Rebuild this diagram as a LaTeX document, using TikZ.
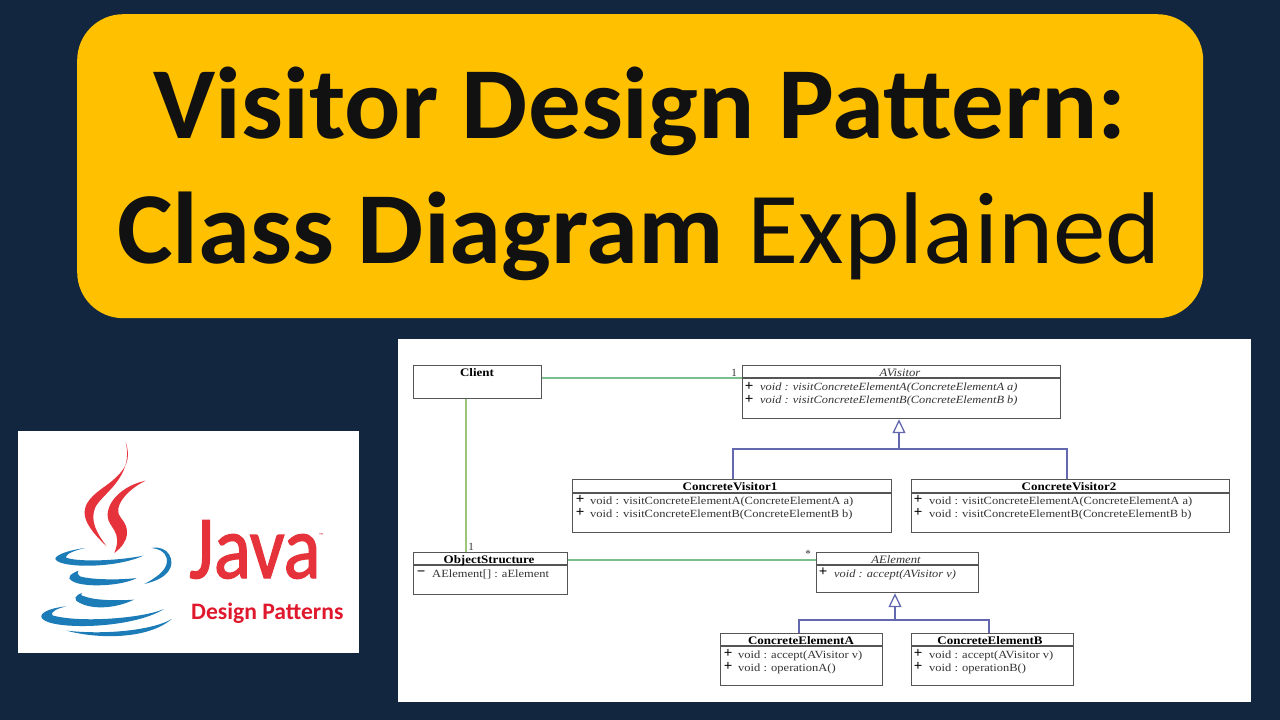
\documentclass[tikz,border=0pt]{standalone}
\usepackage{fontspec}
\setmainfont{Carlito}
\newfontfamily\umlfont{Liberation Serif}
\newfontfamily\visfont[FakeBold=1.5]{Liberation Serif}
\newfontfamily\javafont[FakeBold=1.6]{Carlito}
\usetikzlibrary{arrows.meta}
\definecolor{bgnavy}{HTML}{12263F}
\definecolor{banner}{HTML}{FFC000}
\definecolor{inkdark}{HTML}{111111}
\definecolor{umlline}{HTML}{555555}
\definecolor{umltext}{HTML}{333333}
\definecolor{lgreen}{HTML}{7CBE8E}
\definecolor{lyellow}{HTML}{9CC47C}
\definecolor{lblue}{HTML}{6468AE}
\definecolor{javared}{HTML}{E5323B}
\definecolor{dpred}{HTML}{E0182D}
\definecolor{javablue}{HTML}{1C7CB8}
\tikzset{
  cls/.style={draw=umlline,line width=1.2pt,fill=white,inner sep=0pt},
  divider/.style={draw=umlline,line width=1.2pt},
  ctitle/.style={font=\umlfont\bfseries\fontsize{11.5}{13}\selectfont,text=black,anchor=base,inner sep=0pt,xscale=1.13},
  atitle/.style={font=\umlfont\itshape\fontsize{11.3}{13}\selectfont,text=umltext,anchor=base,inner sep=0pt,xscale=1.12},
  mem/.style={font=\umlfont\fontsize{11}{13}\selectfont,text=umltext,anchor=base west,inner sep=0pt,xscale=1.136},
  amem/.style={font=\umlfont\itshape\fontsize{11}{13}\selectfont,text=umltext,anchor=base west,inner sep=0pt,xscale=1.127},
  vis/.style={font=\visfont\fontsize{14}{14}\selectfont,text=black,anchor=base,inner sep=0pt},
  mult/.style={font=\umlfont\fontsize{11}{13}\selectfont,text=umltext,anchor=base,inner sep=0pt},
  assoc/.style={draw=lgreen,line width=1.3pt},
  assocv/.style={draw=lyellow,line width=1.4pt},
  inherit/.style={draw=lblue,line width=1.3pt},
  inherithead/.style={draw=lblue,line width=1.3pt,-{Triangle[open,length=14pt,width=13pt,fill=white]}},
  headline/.style={font=\bfseries\fontsize{102}{110}\selectfont,text=inkdark,anchor=base,inner sep=0pt,xscale=1.03},
  flame/.style={fill=javared,draw=none},
  cup/.style={fill=javablue,draw=none}
}
\begin{document}
\begin{tikzpicture}[x=1pt,y=-1pt]
\useasboundingbox (0,0) rectangle (1280,720);
\fill[bgnavy] (0,0) rectangle (1280,720);
% banner
\node[draw=none,fill=banner,rounded corners=46pt,minimum width=1126pt,minimum height=304pt,inner sep=0pt,anchor=north west] (bannerbox) at (77,14) {};
\node[headline] (line1) at (640,138) {Visitor Design Pattern:};
\node[headline] (line2) at (639,263.5) {Class Diagram \fontseries{m}\selectfont Explained};
% panels
\node[fill=white,minimum width=341pt,minimum height=222pt,inner sep=0pt,anchor=north west] (logopanel) at (18,431) {};
\node[fill=white,minimum width=853pt,minimum height=363pt,inner sep=0pt,anchor=north west] (umlpanel) at (398,339) {};
% logo, in 3x zoom coordinates
\begin{scope}[shift={(15,428)},x=0.33333pt,y=-0.33333pt]
\fill[flame] (332,42) .. controls (348,90) and (340,125) .. (270,175) .. controls (190,230) and (185,270) .. (275,355) .. controls (245,315) and (225,280) .. (240,240) .. controls (258,198) and (358,150) .. (332,42) -- cycle;
\fill[flame] (392,158) .. controls (325,172) and (275,220) .. (278,265) .. controls (280,300) and (325,310) .. (298,375) .. controls (345,340) and (345,300) .. (318,270) .. controls (290,240) and (335,185) .. (392,158) -- cycle;
\fill[cup] (210,360) .. controls (150,368) and (115,385) .. (122,395) .. controls (140,420) and (300,422) .. (385,383) .. controls (300,400) and (180,402) .. (152,388) .. controls (155,375) and (185,366) .. (210,360) -- cycle;
\fill[cup] (410,360) .. controls (460,350) and (484,400) .. (460,430) .. controls (445,450) and (420,460) .. (388,468) .. controls (432,445) and (462,420) .. (455,390) .. controls (450,370) and (430,362) .. (410,360) -- cycle;
\fill[cup] (190,428) .. controls (165,438) and (155,450) .. (170,458) .. controls (200,480) and (320,475) .. (365,450) .. controls (320,456) and (230,456) .. (195,445) .. controls (187,440) and (186,435) .. (190,428) -- cycle;
\fill[cup] (200,495) .. controls (180,503) and (172,515) .. (195,525) .. controls (240,548) and (310,538) .. (357,515) .. controls (310,518) and (240,518) .. (208,505) .. controls (198,503) and (197,500) .. (200,495) -- cycle;
\fill[cup] (155,535) .. controls (100,540) and (68,558) .. (82,572) .. controls (110,606) and (350,604) .. (447,543) .. controls (380,572) and (190,585) .. (112,562) .. controls (105,553) and (125,541) .. (155,535) -- cycle;
\fill[cup] (155,608) .. controls (250,634) and (400,634) .. (470,573) .. controls (420,604) and (280,622) .. (155,608) -- cycle;
\end{scope}
\node[anchor=base west,inner sep=0pt,text=javared,font=\javafont\fontsize{90}{90}\selectfont,xscale=.86] (javaword) at (189,578) {Java};
\node[anchor=base west,inner sep=0pt,text=javared,font=\fontsize{6}{6}\selectfont] (tm) at (319,537) {™};
\node[anchor=base west,inner sep=0pt,text=dpred,font=\bfseries\fontsize{23.6}{24}\selectfont] (dp) at (191,619) {Design Patterns};
% class boxes
\node[cls,minimum width=128pt,minimum height=33pt,anchor=north west] (client) at (413,365) {};
\node[cls,minimum width=318pt,minimum height=53pt,anchor=north west] (avisitor) at (742,365) {};
\node[cls,minimum width=319pt,minimum height=53pt,anchor=north west] (cv1) at (572,479) {};
\node[cls,minimum width=318pt,minimum height=53pt,anchor=north west] (cv2) at (911,479) {};
\node[cls,minimum width=154pt,minimum height=42pt,anchor=north west] (ostruct) at (413,552) {};
\node[cls,minimum width=162pt,minimum height=40pt,anchor=north west] (aelement) at (816,552) {};
\node[cls,minimum width=162pt,minimum height=52pt,anchor=north west] (cea) at (720,633) {};
\node[cls,minimum width=162pt,minimum height=52pt,anchor=north west] (ceb) at (911,633) {};
% compartments
\coordinate (avdiv) at (742,378);
\coordinate (cvdiv) at (572,493);
\coordinate (osdiv) at (413,565);
\coordinate (cediv) at (720,646);
\draw[divider] (avdiv) -- (avdiv -| avisitor.east);
\draw[divider] (cv1.west |- cvdiv) -- (cv1.east |- cvdiv);
\draw[divider] (cv2.west |- cvdiv) -- (cv2.east |- cvdiv);
\draw[divider] (osdiv) -- (osdiv -| ostruct.east);
\draw[divider] (aelement.west |- osdiv) -- (aelement.east |- osdiv);
\draw[divider] (cea.west |- cediv) -- (cea.east |- cediv);
\draw[divider] (ceb.west |- cediv) -- (ceb.east |- cediv);
% titles
\node[ctitle] (tclient) at (477,376) {Client};
\node[atitle] (tav) at (900,376.5) {AVisitor};
\node[ctitle] (tcv1) at (730,490) {ConcreteVisitor1};
\node[ctitle] (tcv2) at (1069,490) {ConcreteVisitor2};
\node[ctitle] (tos) at (489,563) {ObjectStructure};
\node[atitle] (tae) at (896,563) {AElement};
\node[ctitle] (tcea) at (801,644) {ConcreteElementA};
\node[ctitle] (tceb) at (990,644) {ConcreteElementB};
% members
\node[vis] (p1) at (749,390) {+};
\node[amem] (m1) at (760,390) {void : visitConcreteElementA(ConcreteElementA a)};
\node[vis] (p2) at (749,403) {+};
\node[amem] (m2) at (760,403) {void : visitConcreteElementB(ConcreteElementB b)};
\node[vis] (p3) at (580,503) {+};
\node[mem] (m3) at (590,504) {void : visitConcreteElementA(ConcreteElementA a)};
\node[vis] (p4) at (580,516) {+};
\node[mem] (m4) at (590,517) {void : visitConcreteElementB(ConcreteElementB b)};
\node[vis] (p5) at (918,503) {+};
\node[mem] (m5) at (929,504) {void : visitConcreteElementA(ConcreteElementA a)};
\node[vis] (p6) at (918,516) {+};
\node[mem] (m6) at (929,517) {void : visitConcreteElementB(ConcreteElementB b)};
\node[vis] (p7) at (421,575.5) {\char"2212};
\node[mem] (m7) at (432,577) {AElement[] : aElement};
\node[vis] (p8) at (823,575.5) {+};
\node[amem] (m8) at (834,577) {void : accept(AVisitor v)};
\node[vis] (p9) at (728,657) {+};
\node[mem] (m9) at (738,658) {void : accept(AVisitor v)};
\node[vis] (p10) at (728,670) {+};
\node[mem] (m10) at (738,671) {void : operationA()};
\node[vis] (p11) at (918,657) {+};
\node[mem] (m11) at (929,658) {void : accept(AVisitor v)};
\node[vis] (p12) at (918,670) {+};
\node[mem] (m12) at (929,671) {void : operationB()};
% connectors
\draw[assoc] (client.east |- avdiv) -- (avdiv);
\coordinate (cx) at (466,475);
\draw[assocv] (client.south -| cx) -- (ostruct.north -| cx);
\coordinate (oy) at (500,560);
\draw[assoc] (ostruct.east |- oy) -- (aelement.west |- oy);
\coordinate (vj) at (899,449);
\draw[inherit] (cv1.north -| 733,0) |- (vj);
\draw[inherit] (cv2.north -| 1067,0) |- (vj);
\draw[inherithead] (vj) -- (avisitor.south -| vj);
\coordinate (ej) at (895,620);
\draw[inherit] (cea.north -| 799,0) |- (ej);
\draw[inherit] (ceb.north -| 989,0) |- (ej);
\draw[inherithead] (ej) -- (aelement.south -| ej);
% multiplicities
\node[mult] (n1) at (734,376) {1};
\node[mult] (n2) at (471,550) {1};
\node[mult] (n3) at (808,557) {*};
\end{tikzpicture}
\end{document}
